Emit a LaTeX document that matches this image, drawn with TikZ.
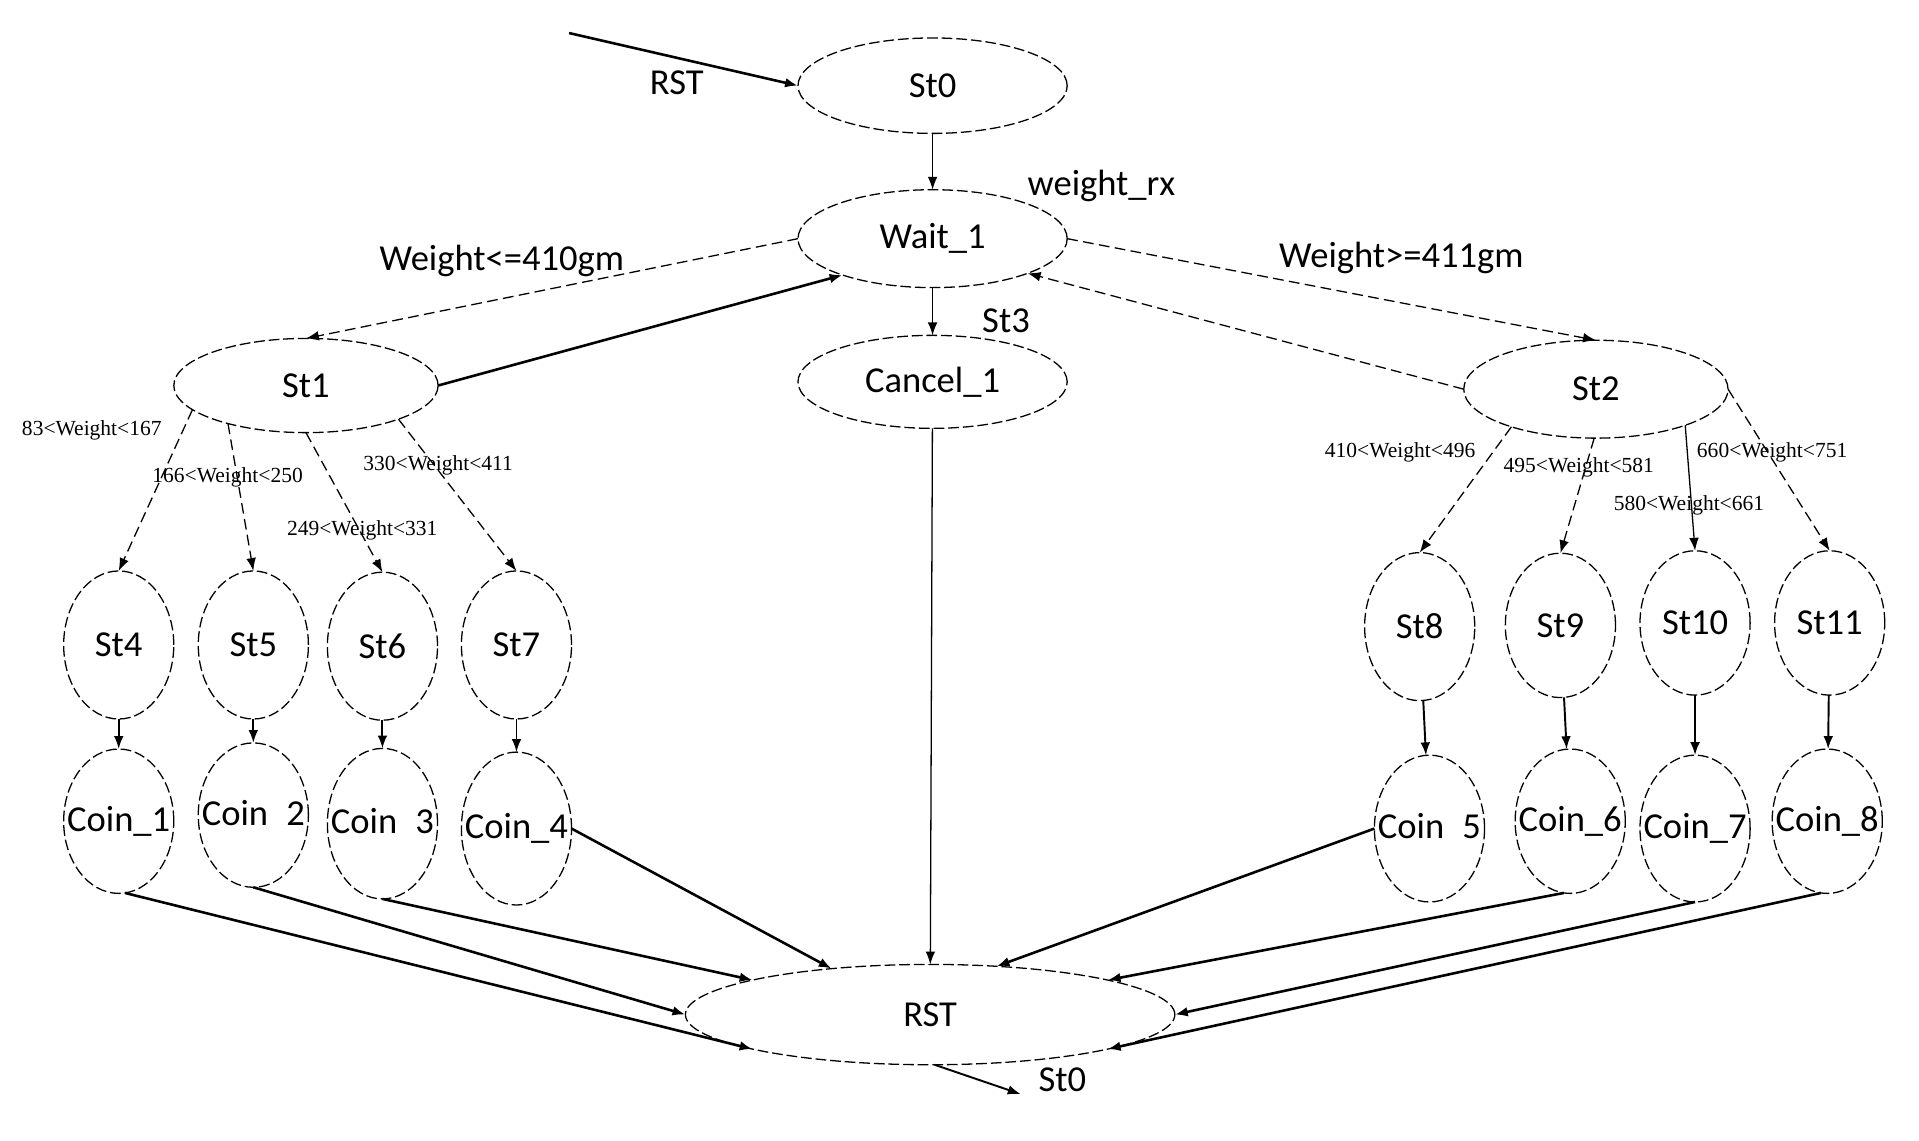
\documentclass[tikz,border=0pt]{standalone}
\usepackage{fontspec}
\setmainfont{Carlito}
\newfontfamily\tnr{Liberation Serif}
\usetikzlibrary{shapes.geometric,arrows.meta}
\begin{document}
\begin{tikzpicture}[x=0.02cm,y=-0.02cm,
  stE/.style={ellipse,draw,dash pattern=on 5pt off 1.8pt,line width=0.6pt,inner sep=0pt,outer sep=0pt},
  bigE/.style={stE,minimum width=4.4cm,minimum height=1.56cm},
  midE/.style={stE,minimum width=4.32cm,minimum height=1.54cm},
  smE/.style={stE,minimum width=1.8cm,minimum height=2.42cm},
  coinE/.style={stE,minimum width=1.8cm,minimum height=2.36cm},
  rstE/.style={stE,minimum width=8cm,minimum height=1.64cm},
  txt/.style={font=\fontsize{17}{20}\selectfont,inner sep=0pt},
  cond/.style={font=\tnr\fontsize{10}{12}\selectfont,inner sep=0pt},
  arr/.style={-{Latex[length=6pt,width=4.5pt]}},
  dedge/.style={arr,dash pattern=on 5pt off 2.5pt,line width=0.6pt},
  thinE/.style={arr,line width=0.6pt},
  medE/.style={arr,line width=0.9pt},
  thickE/.style={arr,line width=1.2pt}]
\useasboundingbox (0,0) rectangle (1568,931.5);

% main column
\node[bigE,label={[txt]center:St0}] (st0) at (762,70) {};
\node[bigE,minimum height=1.6cm,label={[txt]center:Wait\_1}] (wait) at (762,195) {};
\node[bigE,minimum height=1.52cm,label={[txt]center:Cancel\_1}] (cancel) at (762,312) {};
\node[midE,label={[txt]center:St1}] (st1) at (250,315) {};
\node[midE,minimum height=1.6cm,label={[txt]center:St2}] (st2) at (1304,318) {};
\node[rstE,label={[txt]center:RST}] (rst) at (760,829) {};

% left states
\node[smE,label={[txt]center:St4}] (st4) at (97,527) {};
\node[smE,label={[txt]center:St5}] (st5) at (207,527) {};
\node[smE,label={[txt]center:St6}] (st6) at (312.5,528) {};
\node[smE,label={[txt]center:St7}] (st7) at (422,527) {};
\node[coinE,label={[txt]center:Coin\_1}] (c1) at (97,671) {};
\node[coinE,label={[txt]center:Coin\phantom{\_}2}] (c2) at (207,666) {};
\node[coinE,minimum height=2.46cm,label={[txt]center:Coin\phantom{\_}3}] (c3) at (312.5,673) {};
\node[coinE,minimum height=2.5cm,label={[txt]center:Coin\_4}] (c4) at (422,677) {};

% right states
\node[smE,label={[txt]center:St8}] (st8) at (1160,512) {};
\node[smE,minimum height=2.36cm,label={[txt]center:St9}] (st9) at (1275,511) {};
\node[smE,minimum height=2.36cm,label={[txt]center:St10}] (st10) at (1385,509) {};
\node[smE,minimum height=2.36cm,label={[txt]center:St11}] (st11) at (1495,509) {};
\node[coinE,minimum height=2.4cm,label={[txt]center:Coin\phantom{\_}5}] (c5) at (1168,677) {};
\node[coinE,label={[txt]center:Coin\_6}] (c6) at (1283,671) {};
\node[coinE,minimum height=2.4cm,label={[txt]center:Coin\_7}] (c7) at (1385,677) {};
\node[coinE,label={[txt]center:Coin\_8}] (c8) at (1493,671) {};

% free labels
\node[txt] (lrst) at (553,68) {RST};
\node[txt] (lwrx) at (900,152) {weight\_rx};
\node[txt] (lst3) at (822,262) {St3};
\node[txt] (lw1) at (410,213) {Weight<=410gm};
\node[txt] (lw2) at (1145,211) {Weight>=411gm};
\node[txt] (lst0) at (868,882) {St0};

\node[cond] (k1) at (75,352) {83<Weight<167};
\node[cond] (k2) at (186,390) {166<Weight<250};
\node[cond] (k3) at (296,433) {249<Weight<331};
\node[cond] (k4) at (358,380) {330<Weight<411};
\node[cond] (k5) at (1144,370) {410<Weight<496};
\node[cond] (k6) at (1290,382) {495<Weight<581};
\node[cond] (k7) at (1380,413) {580<Weight<661};
\node[cond] (k8) at (1448,370) {660<Weight<751};

\coordinate (rstin) at (465,27);
\coordinate (rstout) at (834,894);

% connectors
\draw[thickE] (rstin) -- (st0.west);
\draw[thinE] (st0) -- (wait);
\draw[thinE] (wait) -- (cancel);
\draw[dedge] (wait.west) -- (st1.north);
\draw[thickE] (st1.east) -- (wait.202);
\draw[dedge] (wait.east) -- (st2.north);
\draw[dedge] (st2.west) -- (wait.-20);

\draw[dedge] (st1.192) -- (st4.north);
\draw[dedge] (st1.206) -- (st5.north);
\draw[dedge] (st1.south) -- (st6.north);
\draw[dedge] (st1.-20) -- (st7.north);

\draw[dedge] (st2.204) -- (st8.north);
\draw[dedge] (st2.-92) -- (st9.north);
\draw[thinE] (st2.-22) -- (st10.north);
\draw[dedge] (st2.east) -- (st11.north);

\draw[medE] (st4) -- (c1);
\draw[medE] (st5) -- (c2);
\draw[medE] (st6) -- (c3);
\draw[medE] (st7) -- (c4);
\draw[medE] (st8) -- (c5);
\draw[medE] (st9) -- (c6);
\draw[medE] (st10) -- (c7);
\draw[medE] (st11) -- (c8);

\draw[thickE] (c1.-85) -- (rst.191);
\draw[thickE] (c2.south) -- (rst.west);
\draw[thickE] (c3.south) -- (rst.169);
\draw[thickE] (c4.east) -- (rst.155);
\draw[thickE] (c5.west) -- (rst.36);
\draw[thickE] (c6.-95) -- (rst.11);
\draw[thickE] (c7.south) -- (rst.east);
\draw[thickE] (c8.-95) -- (rst.-11);
\draw[thinE] (cancel) -- (rst);
\draw[medE] (rst.-85) -- (rstout);
\end{tikzpicture}
\end{document}
